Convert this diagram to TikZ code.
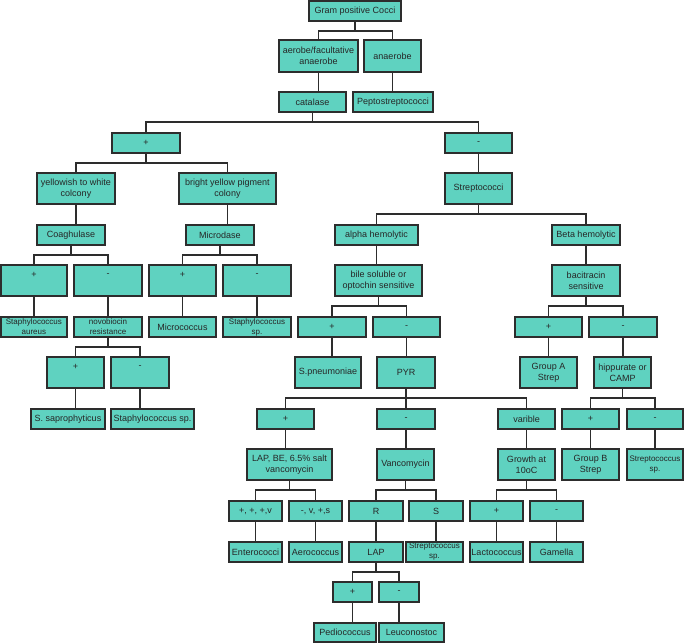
\documentclass[tikz,border=0pt]{standalone}
\usepackage{fontspec}
\setmainfont{Liberation Sans}
\definecolor{boxfill}{RGB}{95,210,192}
\definecolor{edge}{RGB}{45,45,45}

\begin{document}
\begin{tikzpicture}[x=1pt, y=-1pt,
  box/.style={draw=edge, line width=1.7pt, fill=boxfill, anchor=north west,
              inner sep=1pt, outer sep=0pt, align=center, text=black!85,
              font=\fontsize{9}{11}\selectfont},
  sz/.style 2 args={minimum width=#1, minimum height=#2},
  small/.style={font=\fontsize{8}{10}\selectfont},
  link/.style={draw=edge, line width=1.6pt}]
\useasboundingbox (0,0) rectangle (685,643);
% top of the key
\node[box, sz={92}{20}] (gpc) at (309,0.9) {Gram positive Cocci};
\node[box, sz={79}{32}] (aer) at (279,40) {aerobe/facultative\\anaerobe};
\node[box, sz={57}{32}] (ana) at (364,40) {anaerobe};
\node[box, sz={67}{20}] (cat) at (279,92) {catalase};
\node[box, sz={80}{20}] (pep) at (353,92) {Peptostreptococci};
\node[box, sz={68}{20}] (cpos) at (112,133) {+};
\node[box, sz={67}{20}] (cneg) at (445,133) {-};
% catalase positive
\node[box, sz={78}{31}] (yel) at (37,173) {yellowish to white\\colcony};
\node[box, sz={97}{31}] (bri) at (179,173) {bright yellow pigment\\colony};
\node[box, sz={68}{20}] (coa) at (37,225) {Coaghulase};
\node[box, sz={68}{20}] (mic) at (186,225) {Microdase};
\node[box, sz={66}{31}] (coap) at (0.9,265) {+\\~};
\node[box, sz={68}{31}] (coan) at (74,265) {-\\~};
\node[box, sz={67}{31}] (micp) at (149,265) {+\\~};
\node[box, sz={68}{31}] (micn) at (223,265) {-\\~};
\node[box, small, sz={66}{20}] (saur) at (0.9,317) {Staphylococcus\\aureus};
\node[box, small, sz={68}{20}] (novo) at (74,317) {novobiocin\\resistance};
\node[box, sz={67}{20}] (micro) at (149,317) {Micrococcus};
\node[box, small, sz={68}{20}] (staa) at (223,317) {Staphylococcus\\sp.};
\node[box, sz={57}{31}] (novp) at (47,357) {+\\~};
\node[box, sz={58}{31}] (novn) at (111,357) {-\\~};
\node[box, sz={74}{20}] (ssap) at (31,409) {S. saprophyticus};
\node[box, sz={83}{20}] (stab) at (111,409) {Staphylococcus sp.};
% catalase negative
\node[box, sz={67}{31}] (strep) at (445,173) {Streptococci};
\node[box, sz={83}{20}] (alpha) at (335,225) {alpha hemolytic};
\node[box, sz={68}{20}] (beta) at (552,225) {Beta hemolytic};
\node[box, sz={87}{31}] (bile) at (335,265) {bile soluble or\\optochin sensitive};
\node[box, sz={68}{31}] (baci) at (552,265) {bacitracin\\sensitive};
\node[box, sz={68}{20}] (bilep) at (298,317) {+};
\node[box, sz={67}{20}] (bilen) at (373,317) {-};
\node[box, sz={67}{20}] (bacp) at (515,317) {+};
\node[box, sz={68}{20}] (bacn) at (589,317) {-};
\node[box, sz={66}{31}] (spn) at (295,357) {S.pneumoniae};
\node[box, sz={58}{31}] (pyr) at (377,357) {PYR};
\node[box, sz={57}{31}] (gas) at (520,357) {Group A\\Strep};
\node[box, sz={57}{31}] (hip) at (594,357) {hippurate or\\CAMP};
\node[box, sz={57}{20}] (pyrp) at (257,409) {+};
\node[box, sz={58}{20}] (pyrn) at (377,409) {-};
\node[box, sz={57}{20}] (pyrv) at (498,409) {varible};
\node[box, sz={57}{20}] (hipp) at (562,409) {+};
\node[box, sz={56}{20}] (hipn) at (627,409) {-};
\node[box, sz={85}{31}] (lbe) at (247,449) {LAP, BE, 6.5\% salt\\vancomycin};
\node[box, sz={57}{31}] (vanc) at (377,449) {Vancomycin};
\node[box, sz={57}{31}] (grow) at (498,449) {Growth at\\10oC};
\node[box, sz={57}{31}] (gbs) at (562,449) {Group B\\Strep};
\node[box, small, sz={56}{31}] (strc) at (627,449) {Streptococcus\\sp.};
\node[box, sz={53}{20}] (lbep) at (229,501) {+, +, +,v};
\node[box, sz={53}{20}] (lben) at (289,501) {-, v, +,s};
\node[box, sz={54}{20}] (vanr) at (349,501) {R};
\node[box, sz={54}{20}] (vans) at (409,501) {S};
\node[box, sz={53}{20}] (grop) at (470,501) {+};
\node[box, sz={53}{20}] (gron) at (530,501) {-};
\node[box, sz={53}{20}] (ent) at (229,542) {Enterococci};
\node[box, sz={53}{20}] (aero) at (289,542) {Aerococcus};
\node[box, sz={54}{20}] (lap) at (349,542) {LAP};
\node[box, small, sz={57}{20}] (strd) at (406,542) {Streptococcus\\sp.};
\node[box, sz={53}{20}] (lac) at (470,542) {Lactococcus};
\node[box, sz={53}{20}] (gam) at (530,542) {Gamella};
\node[box, sz={39}{20}] (lapp) at (333,582) {+};
\node[box, sz={40}{20}] (lapn) at (379,582) {-};
\node[box, sz={62}{19}] (pedi) at (314,623) {Pediococcus};
\node[box, sz={65}{19}] (leu) at (379,623) {Leuconostoc};
% branches
\draw[link] (gpc.south) -- ++(0,10) -| (aer.north); \draw[link] (gpc.south) -- ++(0,10) -| (ana.north);
\draw[link] (cat.south) -- ++(0,10) -| (cpos.north); \draw[link] (cat.south) -- ++(0,10) -| (cneg.north);
\draw[link] (cpos.south) -- ++(0,10) -| (yel.north); \draw[link] (cpos.south) -- ++(0,10) -| (bri.north);
\draw[link] (coa.south) -- ++(0,10) -| (coap.north); \draw[link] (coa.south) -- ++(0,10) -| (coan.north);
\draw[link] (mic.south) -- ++(0,10) -| (micp.north); \draw[link] (mic.south) -- ++(0,10) -| (micn.north);
\draw[link] (novo.south) -- ++(0,10) -| (novp.north); \draw[link] (novo.south) -- ++(0,10) -| (novn.north);
\draw[link] (strep.south) -- ++(0,10) -| (alpha.north); \draw[link] (strep.south) -- ++(0,10) -| (beta.north);
\draw[link] (bile.south) -- ++(0,10) -| (bilep.north); \draw[link] (bile.south) -- ++(0,10) -| (bilen.north);
\draw[link] (baci.south) -- ++(0,10) -| (bacp.north); \draw[link] (baci.south) -- ++(0,10) -| (bacn.north);
\draw[link] (pyr.south) -- ++(0,10) -| (pyrp.north); \draw[link] (pyr.south) -- ++(0,10) -| (pyrn.north);
\draw[link] (pyr.south) -- ++(0,10) -| (pyrv.north);
\draw[link] (hip.south) -- ++(0,10) -| (hipp.north); \draw[link] (hip.south) -- ++(0,10) -| (hipn.north);
\draw[link] (lbe.south) -- ++(0,10) -| (lbep.north); \draw[link] (lbe.south) -- ++(0,10) -| (lben.north);
\draw[link] (vanc.south) -- ++(0,10) -| (vanr.north); \draw[link] (vanc.south) -- ++(0,10) -| (vans.north);
\draw[link] (grow.south) -- ++(0,10) -| (grop.north); \draw[link] (grow.south) -- ++(0,10) -| (gron.north);
\draw[link] (lap.south) -- ++(0,10) -| (lapp.north); \draw[link] (lap.south) -- ++(0,10) -| (lapn.north);
% straight links
\draw[link] (aer.south) -- (aer.south |- cat.north); \draw[link] (ana.south) -- (ana.south |- pep.north);
\draw[link] (yel.south) -- (yel.south |- coa.north); \draw[link] (bri.south) -- (bri.south |- mic.north);
\draw[link] (coap.south) -- (coap.south |- saur.north); \draw[link] (coan.south) -- (coan.south |- novo.north);
\draw[link] (micp.south) -- (micp.south |- micro.north); \draw[link] (micn.south) -- (micn.south |- staa.north);
\draw[link] (novp.south) -- (novp.south |- ssap.north); \draw[link] (novn.south) -- (novn.south |- stab.north);
\draw[link] (cneg.south) -- (cneg.south |- strep.north);
\draw[link] (alpha.south) -- (alpha.south |- bile.north); \draw[link] (beta.south) -- (beta.south |- baci.north);
\draw[link] (bilep.south) -- (bilep.south |- spn.north); \draw[link] (bilen.south) -- (bilen.south |- pyr.north);
\draw[link] (bacp.south) -- (bacp.south |- gas.north); \draw[link] (bacn.south) -- (bacn.south |- hip.north);
\draw[link] (pyrp.south) -- (pyrp.south |- lbe.north); \draw[link] (pyrn.south) -- (pyrn.south |- vanc.north);
\draw[link] (pyrv.south) -- (pyrv.south |- grow.north);
\draw[link] (hipp.south) -- (hipp.south |- gbs.north); \draw[link] (hipn.south) -- (hipn.south |- strc.north);
\draw[link] (lbep.south) -- (lbep.south |- ent.north); \draw[link] (lben.south) -- (lben.south |- aero.north);
\draw[link] (vanr.south) -- (vanr.south |- lap.north); \draw[link] (vans.south) -- (vans.south |- strd.north);
\draw[link] (grop.south) -- (grop.south |- lac.north); \draw[link] (gron.south) -- (gron.south |- gam.north);
\draw[link] (lapp.south) -- (lapp.south |- pedi.north); \draw[link] (lapn.south) -- (lapn.south |- leu.north);
\end{tikzpicture}
\end{document}
